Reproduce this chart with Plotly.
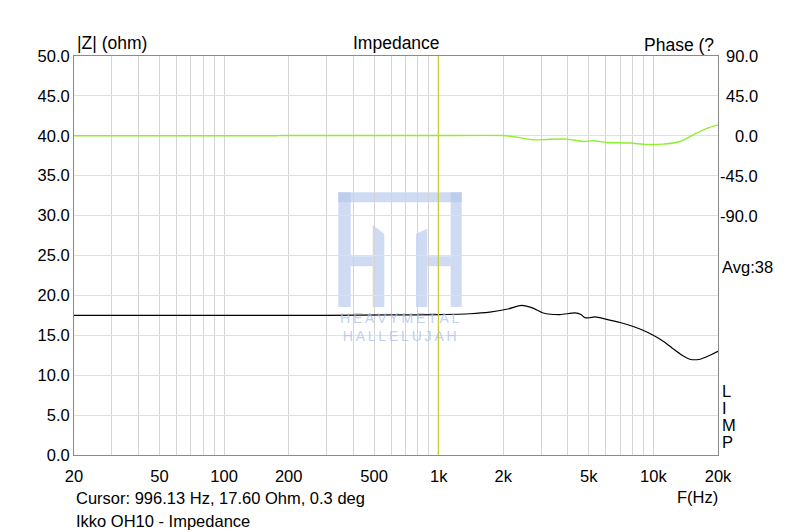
import plotly.graph_objects as go

# ---- data ----
imp_freq = [20, 100, 300, 600, 1000, 1400, 1730, 2100, 2430, 2750, 3070, 3670, 4310, 4600, 4800, 5050, 5350, 6060, 7000, 8060, 9000, 9990, 11200, 12370, 13600, 14790, 16480, 18000, 20000]
imp_ohm = [17.5, 17.5, 17.5, 17.55, 17.6, 17.7, 17.9, 18.3, 18.75, 18.4, 17.8, 17.6, 17.8, 17.6, 17.2, 17.2, 17.3, 17.0, 16.6, 16.1, 15.6, 15.0, 14.2, 13.3, 12.5, 12.0, 12.0, 12.4, 13.0]

ph_freq = [20, 175, 185, 500, 1000, 2000, 2305, 2755, 3180, 3940, 4710, 5250, 6060, 7780, 9300, 11100, 13300, 15900, 18000, 20000]
ph_deg = [0.0, 0.0, 0.3, 0.3, 0.3, 0.3, -1.5, -4.5, -4.1, -3.7, -6.4, -5.6, -7.5, -8.2, -9.7, -9.4, -6.4, 3.0, 9.0, 12.4]

cursor_freq = 996.13

grid_freqs = [20, 30, 40, 50, 60, 70, 80, 90, 100, 200, 300, 400, 500, 600, 700, 800, 900,
              1000, 2000, 3000, 4000, 5000, 6000, 7000, 8000, 9000, 10000, 20000]
labeled = {20: "20", 50: "50", 100: "100", 200: "200", 500: "500", 1000: "1k",
           2000: "2k", 5000: "5k", 10000: "10k", 20000: "20k"}
x_ticktext = [labeled.get(f, "") for f in grid_freqs]

z_ticks = [0, 5, 10, 15, 20, 25, 30, 35, 40, 45, 50]
ph_ticks = [90, 45, 0, -45, -90]

FONT = "Arial, Liberation Sans, sans-serif"
FS = 16.5

fig = go.Figure()

fig.add_trace(go.Scatter(x=imp_freq, y=imp_ohm, mode="lines", line=dict(color="#000000", width=1.2, shape="spline", smoothing=0.6),
                         hoverinfo="skip", showlegend=False))
fig.add_trace(go.Scatter(x=ph_freq, y=ph_deg, mode="lines", yaxis="y2", line=dict(color="#8ef02c", width=1.4, shape="spline", smoothing=0.6),
                         hoverinfo="skip", showlegend=False))
fig.add_trace(go.Scatter(x=[cursor_freq, cursor_freq], y=[0, 50], mode="lines", line=dict(color="#c4cc3a", width=1.2),
                         hoverinfo="skip", showlegend=False))

# ---- watermark (logo) ----
def px(x):
    return (x - 74) / 644.0

def oy(y):
    return (455 - y) / 8.0

wm = "rgba(175,195,235,0.6)"
rects = [
    (338.3, 191.7, 350.7, 306.7),
    (338.3, 191.7, 461.7, 201.7),
    (450.7, 191.7, 461.7, 306.7),
    (350.7, 255.7, 372.7, 265.7),
    (427.3, 255.7, 450.7, 265.7),
]
shapes = []
for (x0, y0, x1, y1) in rects:
    shapes.append(dict(type="rect", xref="paper", yref="y", x0=px(x0), x1=px(x1), y0=oy(y1), y1=oy(y0),
                       fillcolor=wm, line=dict(width=0), layer="below"))
# slanted pillars
lp = f"M {px(372.7)},{oy(306.7)} L {px(372.7)},{oy(224.3)} L {px(384.3)},{oy(233.3)} L {px(384.3)},{oy(306.7)} Z"
rp = f"M {px(416)},{oy(306.7)} L {px(416)},{oy(233.3)} L {px(427.3)},{oy(228.3)} L {px(427.3)},{oy(306.7)} Z"
for p in (lp, rp):
    shapes.append(dict(type="path", xref="paper", yref="y", path=p, fillcolor=wm, line=dict(width=0), layer="below"))

annotations = []
ts = "\u2009"
wm_text = ts.join("HEAVYMETAL") + "<br>" + ts.join("HALLELUJAH")
annotations.append(dict(text=wm_text, x=px(400), y=(455 - 327) / 400.0, xref="paper", yref="paper",
                        showarrow=False, xanchor="center", yanchor="middle",
                        font=dict(family=FONT, size=14, color="rgba(175,195,235,0.8)")))

# right axis labels (right aligned)
for v in ph_ticks:
    annotations.append(dict(text=f"{v:.1f}", x=(760 - 74) / 644.0, y=v, xref="paper", yref="y2",
                            showarrow=False, xanchor="right", yanchor="middle", font=dict(family=FONT, size=FS, color="#000")))

def ann(text, x, y, xa, size=FS):
    annotations.append(dict(text=text, x=x, y=y, xref="paper", yref="paper", showarrow=False,
                            xanchor=xa, yanchor="middle", font=dict(family=FONT, size=size, color="#000")))

ann("|Z| (ohm)", px(75), (455 - 42) / 400.0, "left", 17.5)
ann("Impedance", px(396), (455 - 42) / 400.0, "center", 17.5)
ann("Phase (?", px(716), (455 - 44) / 400.0, "right", 17.5)
ann("Avg:38", px(720), (455 - 267) / 400.0, "left")
for letter, yy in zip("LIMP", (391, 408, 425, 442)):
    ann(letter, px(720), (455 - yy) / 400.0, "left")
ann("F(Hz)", px(697), (455 - 497) / 400.0, "center")
ann("Cursor: 996.13 Hz, 17.60 Ohm, 0.3 deg", px(74), (455 - 498) / 400.0, "left")
ann("Ikko OH10 - Impedance", px(74), (455 - 521) / 400.0, "left")

fig.update_layout(
    width=800, height=532,
    margin=dict(l=74, r=82, t=56, b=77),
    paper_bgcolor="white", plot_bgcolor="white",
    font=dict(family=FONT, size=FS, color="#000"),
    xaxis=dict(type="log", range=[1.30103, 4.30103], tickvals=grid_freqs, ticktext=x_ticktext,
               showgrid=True, gridcolor="#d4d4d4", gridwidth=1, zeroline=False,
               showline=True, linecolor="#8a8a8a", linewidth=1, mirror=True, ticks="",
               tickfont=dict(size=FS), ticklabelstandoff=6),
    yaxis=dict(range=[0, 50], tickvals=z_ticks, ticktext=[f"{v:.1f}" for v in z_ticks],
               showgrid=True, gridcolor="#e0e0e0", zeroline=False, showline=True, linecolor="#8a8a8a",
               linewidth=1, mirror=True, ticks="", tickfont=dict(size=FS)),
    yaxis2=dict(range=[-360, 90], overlaying="y", side="right", showgrid=False, zeroline=False,
                showticklabels=False, ticks=""),
    shapes=shapes,
    annotations=annotations,
)

fig.write_html("out.html")
